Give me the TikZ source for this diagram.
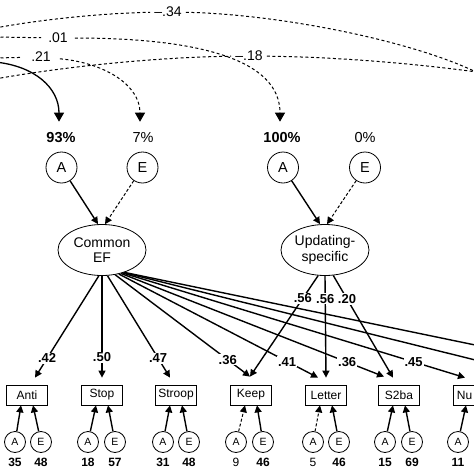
\documentclass[tikz,border=0pt]{standalone}
\usepackage{fontspec}
\setmainfont{Liberation Sans}
\usetikzlibrary{arrows.meta,shapes.geometric}

\tikzset{
  factor/.style={draw, ellipse, line width=.8pt, minimum width=88pt, minimum height=51pt, inner sep=0pt, align=center, font=\fontsize{14}{15.5}\selectfont},
  bigace/.style={draw, circle, line width=.8pt, minimum size=31pt, inner sep=0pt, font=\fontsize{14.5}{14.5}\selectfont},
  smallace/.style={draw, circle, line width=.8pt, minimum size=21pt, inner sep=0pt, font=\fontsize{10.5}{10.5}\selectfont},
  task/.style={draw, rectangle, line width=.8pt, minimum width=41pt, minimum height=20pt, inner sep=1pt, font=\fontsize{12}{12}\selectfont},
  pct/.style={inner sep=0pt, font=\fontsize{14.5}{14.5}\selectfont},
  boldpct/.style={pct, font=\bfseries\fontsize{14.5}{14.5}\selectfont},
  corr/.style={inner ysep=2pt, inner xsep=4pt, font=\fontsize{14}{14}\selectfont},
  load/.style={fill=white, inner sep=1pt, font=\bfseries\fontsize{13}{13}\selectfont},
  herit/.style={label distance=2pt, font=\bfseries\fontsize{12}{12}\selectfont},
  plainherit/.style={herit, font=\fontsize{12}{12}\selectfont},
  toparrow/.style={line width=1.3pt, shorten >=11pt, -{Triangle[length=9pt,width=10pt]}},
  topdash/.style={toparrow, line width=1pt, dash pattern=on 3pt off 2.5pt},
  corrline/.style={line width=1pt, dash pattern=on 3pt off 2.5pt},
  loadline/.style={line width=1.4pt, -{Triangle[length=7pt,width=7pt]}},
  errdash/.style={loadline, line width=1pt, dash pattern=on 3pt off 2pt},
}

\begin{document}
\begin{tikzpicture}[x=1pt,y=-1pt]
\useasboundingbox (0,0) rectangle (474,474) ;
\clip (0,0) rectangle (474,474) ;

\coordinate (s93) at (-5,62) ;
\coordinate (s21) at (-5,58) ;
\coordinate (s01) at (-5,37) ;
\coordinate (s34) at (-5,28) ;
\coordinate (s18) at (-5,79) ;
\coordinate (e34) at (484,76) ;
\coordinate (e18) at (484,73) ;
\coordinate (off1) at (620,375) ;
\coordinate (off2) at (620,396) ;

\node [corr, inner xsep=9pt] (r21) at (41,57) {.21} ;
\node [corr, inner xsep=7pt] (r01) at (58,38) {.01} ;
\node [corr] (r34) at (168,12) {\textendash.34} ;
\node [corr] (r18) at (249,56) {\textendash.18} ;

\node [boldpct] (pa1) at (61,138) {93\%} ;
\node [pct] (pe1) at (143,138) {7\%} ;
\node [boldpct] (pa2) at (282,138) {100\%} ;
\node [pct] (pe2) at (365,138) {0\%} ;

\node [bigace] (ta1) at (61.5,167.5) {A} ;
\node [bigace] (te1) at (142.5,167.5) {E} ;
\node [bigace] (ta2) at (283,167.5) {A} ;
\node [bigace] (te2) at (365,167.5) {E} ;

\node [factor] (cef) at (102,250) {Common\\EF} ;
\node [factor] (upd) at (325,250) {Updating-\\specific} ;

\node [task] (anti) at (27,395) {Anti} ;
\node [task] (stop) at (102,395) {Stop} ;
\node [task] (stroop) at (176,395) {Stroop} ;
\node [task] (keep) at (251,395) {Keep} ;
\node [task] (letter) at (326,395) {Letter} ;
\node [task] (stwoba) at (399,395) {S2ba} ;
\node [task, anchor=west, text width=50pt, inner xsep=3.5pt, align=left] (num) at (453,395) {Nu} ;

\node [smallace, label={[herit]below:35}] (aa1) at (15,442) {A} ;
\node [smallace, label={[herit]below:48}] (ea1) at (41,442) {E} ;
\node [smallace, label={[herit]below:18}] (aa2) at (88,442) {A} ;
\node [smallace, label={[herit]below:57}] (ea2) at (115,442) {E} ;
\node [smallace, label={[herit]below:31}] (aa3) at (163,442) {A} ;
\node [smallace, label={[herit]below:48}] (ea3) at (189,442) {E} ;
\node [smallace, label={[plainherit]below:9}] (aa4) at (236,442) {A} ;
\node [smallace, label={[herit]below:46}] (ea4) at (263,442) {E} ;
\node [smallace, label={[plainherit]below:5}] (aa5) at (313,442) {A} ;
\node [smallace, label={[herit]below:46}] (ea5) at (339,442) {E} ;
\node [smallace, label={[herit]below:15}] (aa6) at (385,442) {A} ;
\node [smallace, label={[herit]below:69}] (ea6) at (412,442) {E} ;
\node [smallace, label={[herit]below:11}] (aa7) at (458,442) {A} ;

\draw [corrline] (s34) .. controls (50,18) and (110,13) .. (r34) ;
\draw [corrline] (r34) .. controls (280,14) and (420,42) .. (e34) ;
\draw [corrline] (s18) .. controls (80,64) and (170,57) .. (r18) ;
\draw [corrline] (r18) .. controls (340,57) and (420,64) .. (e18) ;
\draw [corrline] (s01) -- (r01) ;
\draw [topdash] (r01) .. controls (200,38) and (280,60) .. ([xshift=-2pt]pa2.north) ;
\draw [corrline] (s21) -- (r21) ;
\draw [topdash] (r21) .. controls (105,63) and (140,85) .. ([xshift=-3pt]pe1.north) ;
\draw [toparrow] (s93) .. controls (35,66) and (59,88) .. ([xshift=-2pt]pa1.north) ;

\draw [loadline] (ta1) -- ([xshift=-4pt]cef.north) ;
\draw [errdash] (te1) -- ([xshift=3pt]cef.north) ;
\draw [loadline] (ta2) -- ([xshift=-5pt]upd.north) ;
\draw [errdash] (te2) -- ([xshift=2pt]upd.north) ;

\draw [loadline] (cef.-45) -- (off1) ;
\draw [loadline] (cef.-46) -- (off2) ;
\draw [loadline] (cef.-48) -- node [load, pos=.85] {.45} ([xshift=12pt,yshift=7pt]num.north west) ;
\draw [loadline] (cef.-51) -- node [load, pos=.86] {.36} ([xshift=-15pt,yshift=8pt]stwoba.north) ;
\draw [loadline] (cef.-55) -- node [load, pos=.845] {.41} ([xshift=-8pt,yshift=7pt]letter.north) ;
\draw [loadline] (cef.-62) -- node [load, pos=.835] {.36} ([xshift=-1pt,yshift=8pt]keep.north) ;
\draw [loadline] (cef.-78) -- node [load, pos=.81] {.47} ([xshift=-6pt,yshift=7pt]stroop.north) ;
\draw [loadline] (cef.south) -- node [load, pos=.8] {.50} ([yshift=7pt]stop.north) ;
\draw [loadline] (cef.-97) -- node [load, pos=.81] {.42} ([xshift=8pt,yshift=7pt]anti.north) ;

\draw [loadline] (upd.-105) -- node [load, pos=.225] {.56} ([xshift=-1pt,yshift=8pt]keep.north) ;
\draw [loadline] (upd.south) -- node [load, pos=.225] {.56} ([yshift=7pt]letter.north) ;
\draw [loadline] (upd.-72) -- node [load, pos=.23] {.20} ([xshift=-6pt,yshift=7pt]stwoba.north) ;

\draw [loadline] (aa1) -- ([xshift=-6pt]anti.south) ;
\draw [loadline] (ea1) -- ([xshift=6pt]anti.south) ;
\draw [loadline] (aa2) -- ([xshift=-6pt]stop.south) ;
\draw [loadline] (ea2) -- ([xshift=6pt]stop.south) ;
\draw [loadline] (aa3) -- ([xshift=-6pt]stroop.south) ;
\draw [loadline] (ea3) -- ([xshift=6pt]stroop.south) ;
\draw [errdash] (aa4) -- ([xshift=-6pt]keep.south) ;
\draw [loadline] (ea4) -- ([xshift=6pt]keep.south) ;
\draw [errdash] (aa5) -- ([xshift=-6pt]letter.south) ;
\draw [loadline] (ea5) -- ([xshift=6pt]letter.south) ;
\draw [loadline] (aa6) -- ([xshift=-6pt]stwoba.south) ;
\draw [loadline] (ea6) -- ([xshift=6pt]stwoba.south) ;
\draw [loadline] (aa7) -- ([xshift=13pt]num.south west) ;

\end{tikzpicture}
\end{document}
